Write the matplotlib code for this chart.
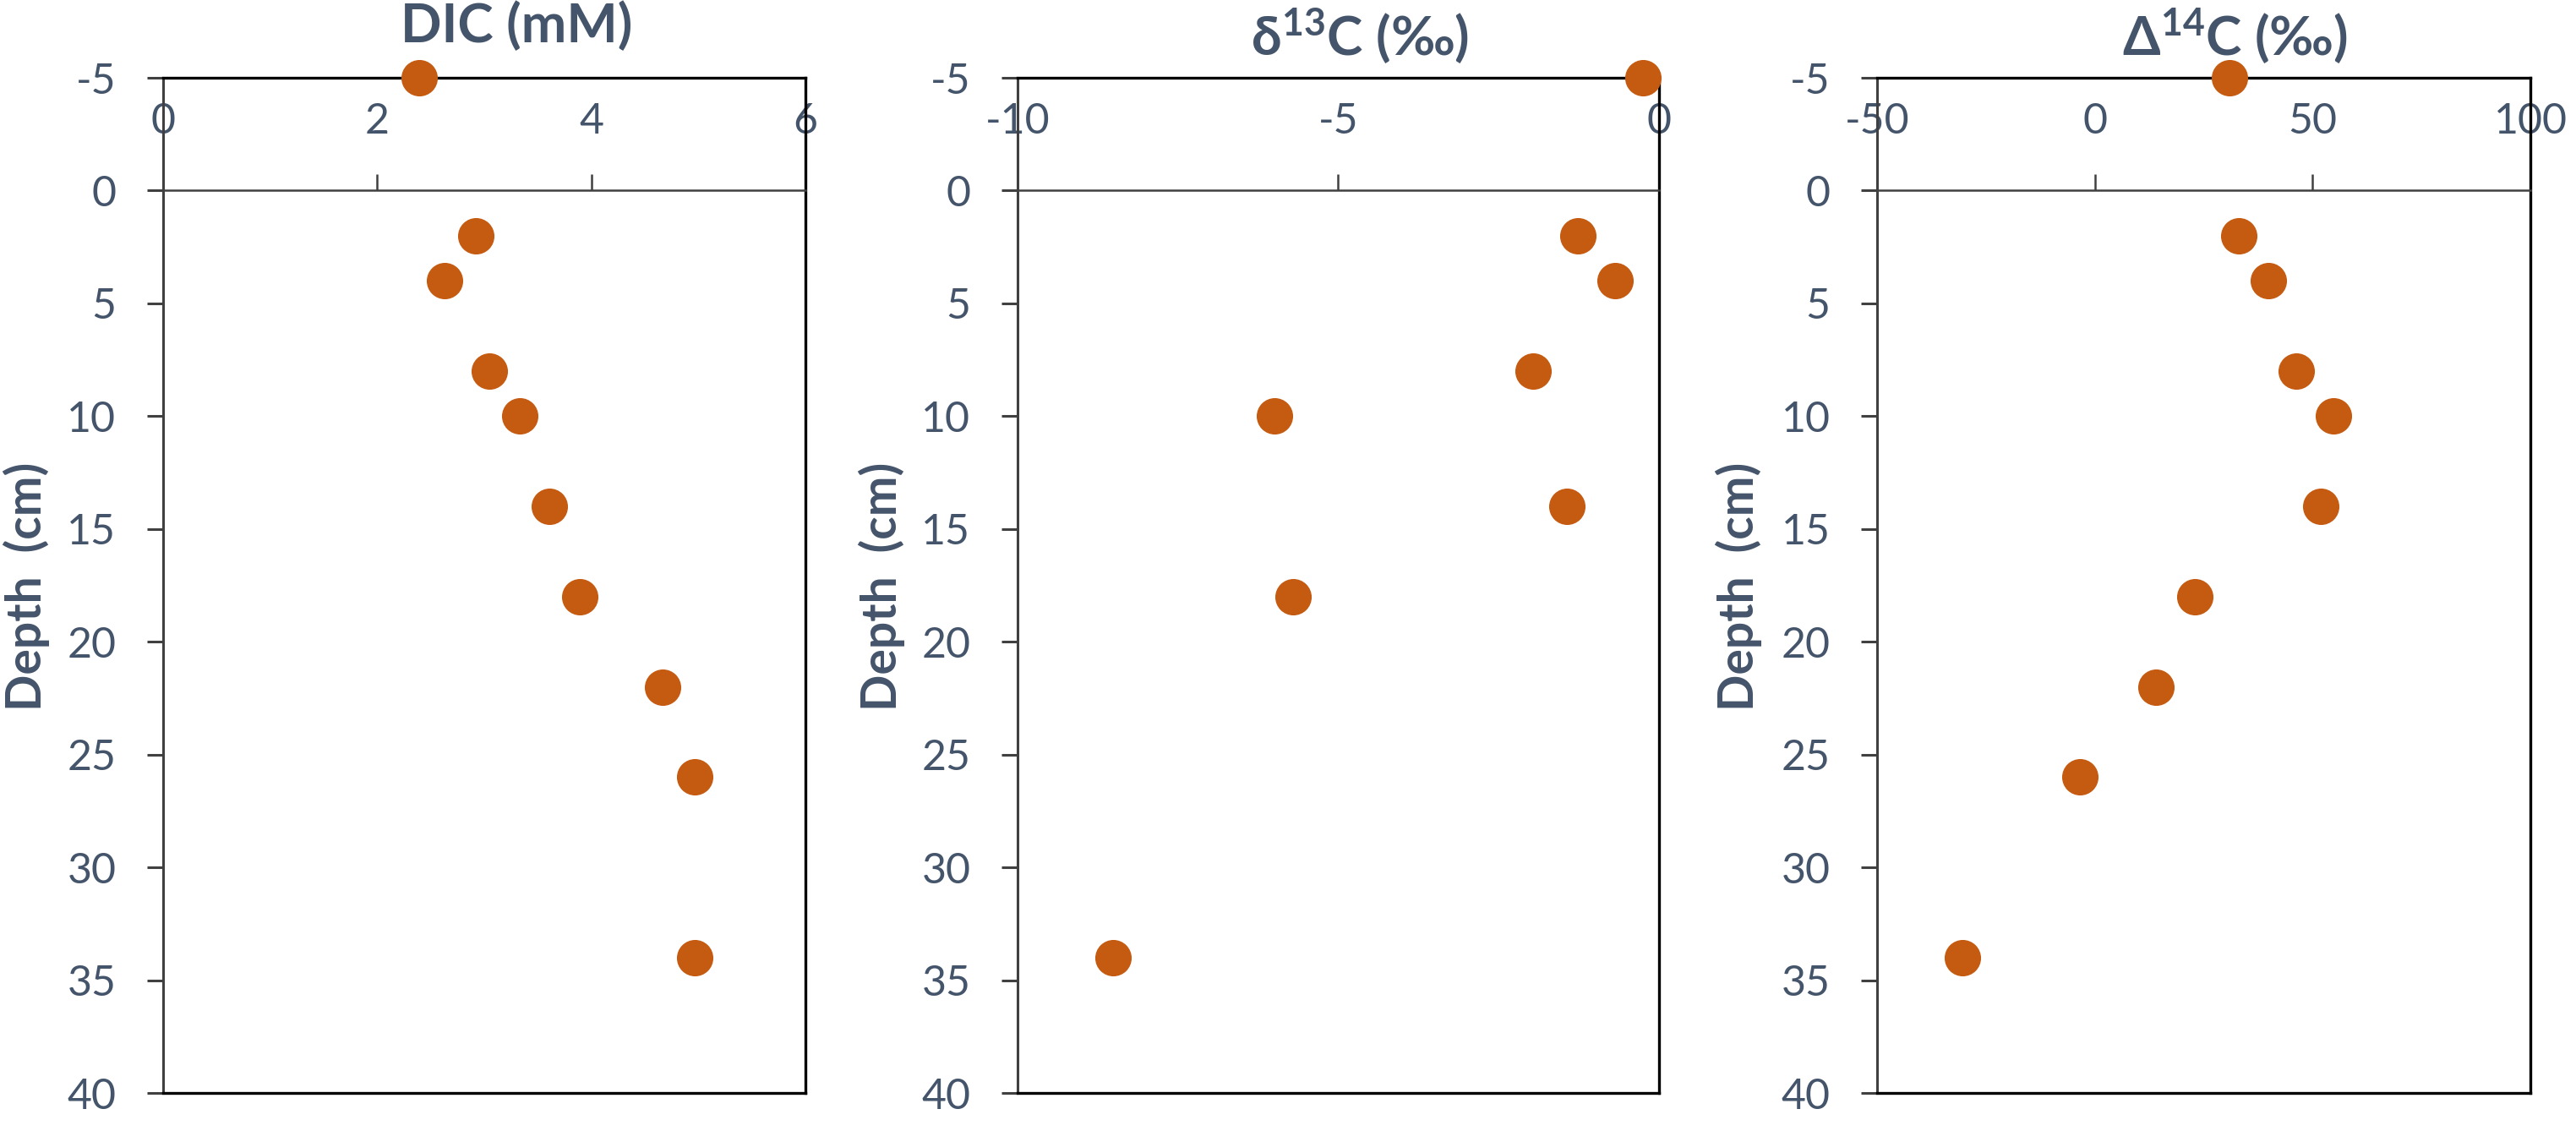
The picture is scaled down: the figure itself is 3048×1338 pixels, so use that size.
import matplotlib
matplotlib.use("Agg")
import matplotlib.pyplot as plt

plt.rcParams['font.family'] = ['Lato', 'DejaVu Sans']
plt.rcParams['mathtext.fontset'] = 'custom'
plt.rcParams['mathtext.rm'] = 'Lato'
plt.rcParams['mathtext.default'] = 'regular'
plt.rcParams['axes.unicode_minus'] = False

# depth profiles (cm)
depth_dic = [-5, 2, 4, 8, 10, 14, 18, 22, 26, 34]
dic = [2.39, 2.92, 2.63, 3.05, 3.33, 3.61, 3.89, 4.67, 4.97, 4.97]

depth_d13c = [-5, 2, 4, 8, 10, 14, 18, 34]
d13c = [-0.25, -1.26, -0.68, -1.96, -5.99, -1.44, -5.70, -8.51]

depth_d14c = [-5, 2, 4, 8, 10, 14, 18, 22, 26, 34]
d14c = [30.9, 33.1, 39.8, 46.3, 54.8, 51.8, 22.9, 14.1, -3.5, -30.4]

titles = ['DIC (mM)', r'$\delta^{13}$C (‰)', r'$\Delta^{14}$C (‰)']
xlims = [(0, 6), (-10, 0), (-50, 100)]
xticks = [[0, 2, 4, 6], [-10, -5, 0], [-50, 0, 50, 100]]
depth_ticks = list(range(-5, 41, 5))

text_col = '#44546A'
dot_col = '#C55A11'
axis_col = '#404040'

fig = plt.figure(figsize=(15.24, 6.69), dpi=200)
lefts = [0.0633, 0.3950, 0.7287]
widths = [0.2493, 0.2490, 0.2536]
title_x = [0.551, 0.534, 0.548]
title_y = [1.035, 1.022, 1.022]

series = [(dic, depth_dic), (d13c, depth_d13c), (d14c, depth_d14c)]

for i, (xv, yv) in enumerate(series):
    ax = fig.add_axes([lefts[i], 0.0336, widths[i], 0.8976])
    ax.plot(xv, yv, 'o', color=dot_col, markersize=15.5, markeredgewidth=0,
            clip_on=False, zorder=4)
    ax.set_xlim(*xlims[i])
    ax.set_ylim(40, -5)
    ax.set_xticks(xticks[i])
    ax.set_yticks(depth_ticks)

    # x axis crosses at depth 0, labels sit high under the top border
    ax.spines['bottom'].set_position(('data', 0))
    ax.spines['bottom'].set_color(axis_col)
    ax.spines['bottom'].set_linewidth(0.9)
    ax.spines['left'].set_color(axis_col)
    ax.spines['left'].set_linewidth(1.1)
    for s in ['top', 'right']:
        ax.spines[s].set_color('black')
        ax.spines[s].set_linewidth(1.2)
    ax.axhline(40, color='black', lw=1.2, clip_on=False, zorder=3)

    ax.tick_params(axis='x', bottom=True, top=False, labelbottom=False,
                   labeltop=True, direction='in', length=7, width=0.9,
                   color=axis_col, pad=-27, labelsize=18, labelcolor=text_col)
    ax.tick_params(axis='y', direction='out', length=7, width=1.1,
                   color=axis_col, pad=13, labelsize=18, labelcolor=text_col)

    ax.text(title_x[i], title_y[i], titles[i], transform=ax.transAxes,
            ha='center', va='baseline', fontsize=23, fontweight='bold',
            color=text_col)
    ax.set_ylabel('Depth  (cm)', fontsize=20.5, fontweight='bold',
                  color=text_col, va='center')
    ax.yaxis.set_label_coords(-0.212, 0.499)

fig.savefig('out.png', dpi=200)
